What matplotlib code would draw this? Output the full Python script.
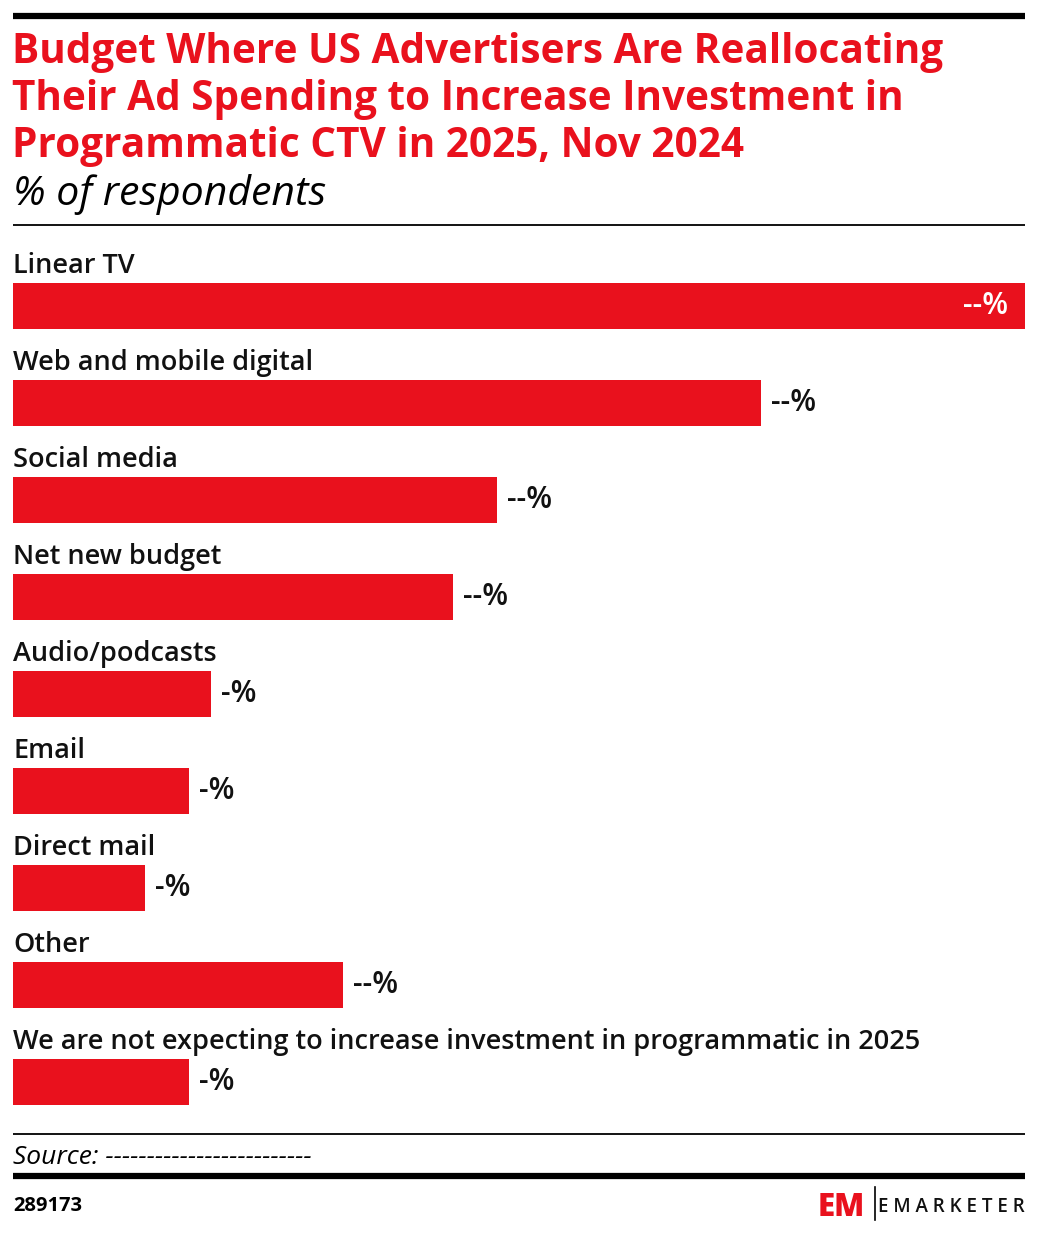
import matplotlib
matplotlib.use("Agg")
import matplotlib.pyplot as plt
from matplotlib.lines import Line2D

categories = ["Linear TV", "Web and mobile digital", "Social media", "Net new budget",
              "Audio/podcasts", "Email", "Direct mail", "Other",
              "We are not expecting to increase investment in programmatic in 2025"]
values = [46, 34, 22, 20, 9, 8, 6, 15, 8]
value_labels = ["-" * len(str(v)) + "%" for v in values]

title = ("Budget Where US Advertisers Are Reallocating\n"
         "Their Ad Spending to Increase Investment in\n"
         "Programmatic CTV in 2025, Nov 2024")
subtitle = "% of respondents"
source = "Source: -------------------------"
chart_id = "289173"

RED = "#E9111D"
W, H = 1038, 1234
fig = plt.figure(figsize=(W / 100, H / 100), dpi=100)
plt.rcParams['font.family'] = ['Open Sans', 'DejaVu Sans']

def fx(px):
    return px / W

def fy(py):
    return 1 - py / H

def hline(y, lw):
    fig.add_artist(Line2D([fx(13), fx(1025)], [fy(y), fy(y)], color="black", lw=lw,
                          solid_capstyle="butt", transform=fig.transFigure))

hline(16, 4.5)
hline(225, 1.3)
hline(1134, 1.3)
hline(1176, 4.5)

for i, line in enumerate(title.split("\n")):
    fig.text(fx(12), fy(63 + 47 * i), line, color=RED, fontsize=29.2, fontweight="bold",
             va="baseline", ha="left")
fig.text(fx(13), fy(205), subtitle, color="black", fontsize=29.5, style="italic",
         va="baseline", ha="left")

# axes
top_px, bot_px = 257.5, 1130.5
ax = fig.add_axes([fx(13), fy(bot_px), fx(1025) - fx(13), (bot_px - top_px) / H])
n = len(categories)
ys = list(range(n))
ax.barh(ys, values, height=46 / 97, color=RED, edgecolor="none")
ax.set_xlim(0, max(values))
ax.set_ylim(n - 0.5, -0.5)
ax.axis("off")

for i, (cat, v, lab) in enumerate(zip(categories, values, value_labels)):
    ax.text(0, i - 0.34, cat, fontsize=19.5, fontweight="semibold", color="#111111",
            va="baseline", ha="left")
    if v == max(values):
        ax.annotate(lab, (v, i), xytext=(-12, 0), textcoords="offset points",
                    ha="right", va="center", fontsize=21.5, fontweight="semibold", color="white")
    else:
        ax.annotate(lab, (v, i), xytext=(7, 0), textcoords="offset points",
                    ha="left", va="center", fontsize=21.5, fontweight="semibold", color="#111111")

fig.text(fx(13), fy(1164), source, fontsize=19, style="italic",
         va="baseline", ha="left")
fig.text(fx(13), fy(1211), chart_id, fontsize=14.5, fontweight="bold", va="baseline", ha="left")

# logo
fig.text(fx(818), fy(1216), "EM", color=RED, fontsize=22.5, fontweight="heavy",
         va="baseline", ha="left")
fig.add_artist(Line2D([fx(875), fx(875)], [fy(1187), fy(1220)], color="black", lw=1.2,
                      transform=fig.transFigure))
fig.text(fx(1025), fy(1212), "E M A R K E T E R", fontsize=13.5, fontweight="semibold",
         va="baseline", ha="right", color="#111111")

fig.savefig("out.png", dpi=100)
